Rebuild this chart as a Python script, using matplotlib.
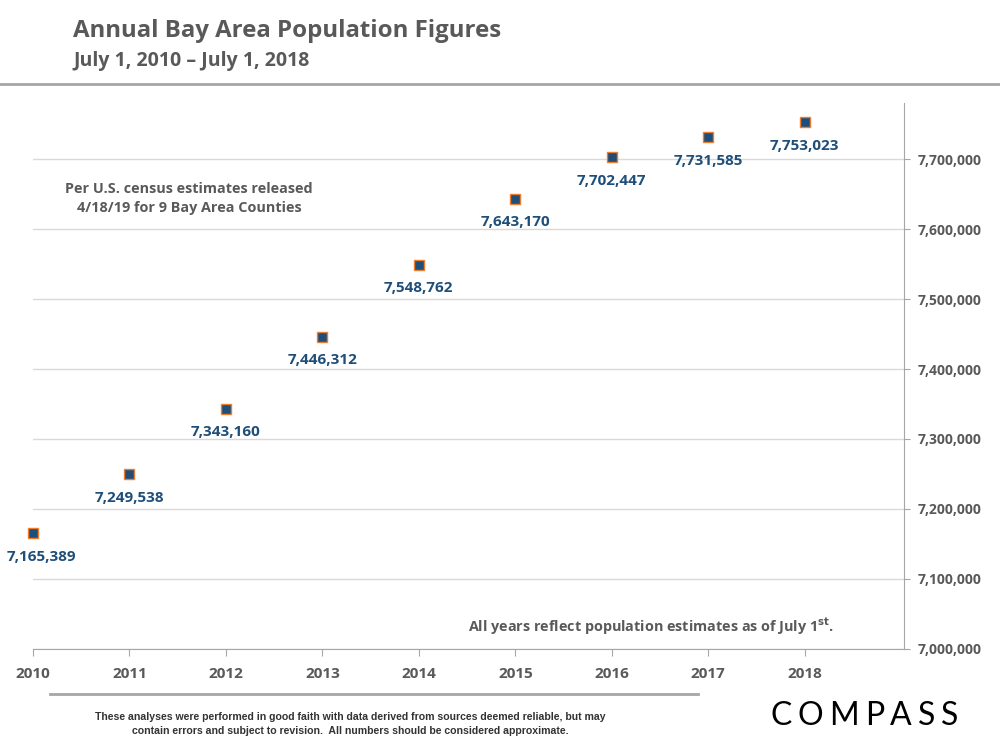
import matplotlib as mpl
mpl.use('Agg')
from matplotlib import pyplot as plt
from matplotlib.ticker import FuncFormatter
import numpy as np

# data
years = [2010, 2011, 2012, 2013, 2014, 2015, 2016, 2017, 2018]
population = [7165389, 7249538, 7343160, 7446312, 7548762, 7643170, 7702447, 7731585, 7753023]
yTicks = [7000000, 7100000, 7200000, 7300000, 7400000, 7500000, 7600000, 7700000]

cNavy = '#1F4E79'
cOrange = '#ED7D31'
cGrey = '#595959'
cGrid = '#D9D9D9'
fMain = ['Open Sans', 'DejaVu Sans']
fNarrow = ['Liberation Sans Narrow', 'Liberation Sans', 'DejaVu Sans']

plt.rcParams['font.family'] = fMain

fig = plt.figure(figsize=(10, 7.45), dpi=100)
ax = fig.add_axes([0.033, 0.1289, 0.871, 0.7328])

ax.scatter(years, population, marker='s', s=60, color=cNavy,
           edgecolors=cOrange, linewidths=1.0, zorder=3, clip_on=False)
for i, (x, y) in enumerate(zip(years, population)):
    dx = 6 if i == 0 else 0  # first label nudged inside the figure
    ax.annotate('{:,}'.format(y), xy=(x, y), xytext=(dx, -17),
                textcoords='offset points', ha='center', va='center',
                fontsize=11, fontweight='bold', color=cNavy)

ax.set_xlim(2010, 2019.03)
ax.set_ylim(7000000, 7780000)
ax.set_xticks(years)
ax.set_yticks(yTicks)
ax.yaxis.tick_right()
ax.yaxis.set_major_formatter(FuncFormatter(lambda v, p: '{:,.0f}'.format(v)))
ax.grid(axis='y', color=cGrid, linewidth=1.0)
ax.set_axisbelow(True)

for s in ['top', 'left']:
    ax.spines[s].set_visible(False)
ax.spines['right'].set_color('#A6A6A6')
ax.spines['bottom'].set_color('#A6A6A6')
ax.tick_params(axis='y', length=4, color='#A6A6A6', pad=6, labelsize=10,
               labelcolor=cGrey)
ax.tick_params(axis='x', length=5, color='#A6A6A6', pad=8, labelsize=11,
               labelcolor=cGrey)
for lbl in ax.get_xticklabels() + ax.get_yticklabels():
    lbl.set_fontweight('bold')

ax.text(0.179, 0.825, 'Per U.S. census estimates released\n4/18/19 for 9 Bay Area Counties',
        transform=ax.transAxes, ha='center', va='center', fontsize=10.4,
        fontweight='bold', color=cGrey, linespacing=1.4)
ax.text(0.92, 0.04, 'All years reflect population estimates as of July 1$^{\\mathbf{st}}$.',
        transform=ax.transAxes, ha='right', va='center', fontsize=10.4,
        fontweight='bold', color=cGrey)

# header
fig.text(0.073, 1 - 31 / 745, 'Annual Bay Area Population Figures', ha='left', va='center',
         fontsize=17.3, fontweight='bold', color=cGrey)
fig.text(0.073, 1 - 61 / 745, 'July 1, 2010 \u2013 July 1, 2018', ha='left', va='center',
         fontsize=14, fontweight='bold', color=cGrey)
fig.add_artist(plt.Line2D([0, 1], [1 - 84 / 745] * 2, color='#A6A6A6', linewidth=2))

# footer
fig.add_artist(plt.Line2D([0.05, 0.698], [1 - 694 / 745] * 2, color='#A6A6A6', linewidth=2))
fig.text(0.35, 1 - 724 / 745,
         'These analyses were performed in good faith with data derived from sources deemed reliable, but may\n'
         'contain errors and subject to revision.  All numbers should be considered approximate.',
         ha='center', va='center', fontsize=7.6, fontweight='bold', color='#333333',
         family=fNarrow, linespacing=1.55)

# logo, tracked out letter by letter
renderer = fig.canvas.get_renderer()
xpos = 770.0
for ch in 'COMPASS':
    t = fig.text(xpos / 1000, 1 - 716 / 745, ch, ha='left', va='center',
                 fontsize=23, color='black', family=['Lato', 'DejaVu Sans'])
    xpos += t.get_window_extent(renderer).width + 6

plt.savefig('out.png', dpi=100)
